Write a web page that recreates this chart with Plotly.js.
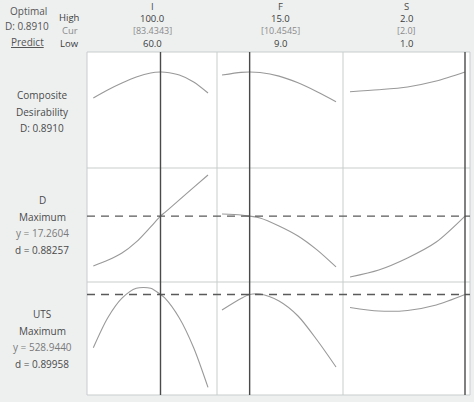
<!DOCTYPE html>
<html>
<head>
<meta charset="utf-8">
<script src="https://cdn.plot.ly/plotly-3.0.1.min.js"></script>
<style>
  html,body{margin:0;padding:0;background:#eef0f0;}
  #chart{width:474px;height:402px;}
</style>
</head>
<body>
<div id="chart"></div>
<script>
"use strict"

// factor settings
const iLevels = [60, 65, 70, 75, 80, 83.4343, 85, 90, 95, 100]
const fLevels = [9, 10, 10.4545, 11, 12, 13, 14, 15]
const sLevels = [1, 1.25, 1.5, 1.75, 2]
const factorNames = ["I", "F", "S"]
const factorHigh = ["100.0", "15.0", "2.0"]
const factorCur = ["[83.4343]", "[10.4545]", "[2.0]"]
const factorLow = ["60.0", "9.0", "1.0"]
const currentSetting = [83.4343, 10.4545, 2.0]

// composite desirability along each factor
const compI = [0.745, 0.790, 0.829, 0.863, 0.886, 0.891, 0.890, 0.874, 0.835, 0.773]
const compF = [0.874, 0.889, 0.891, 0.888, 0.868, 0.830, 0.780, 0.724]
const compS = [0.780, 0.791, 0.807, 0.840, 0.891]

// D response
const dI = [13.28, 13.73, 14.31, 15.20, 16.40, 17.2604, 17.56, 18.56, 19.56, 20.54]
const dF = [17.43, 17.35, 17.2604, 17.11, 16.47, 15.67, 14.56, 13.20]
const dS = [12.40, 12.96, 13.92, 15.19, 17.2604]

// UTS response
const utsI = [450.0, 494.1, 523.5, 538.2, 538.2, 528.944, 523.5, 494.1, 450.0, 391.2]
const utsF = [506.0, 523.0, 528.944, 529.7, 519.3, 497.1, 461.5, 421.5]
const utsS = [509.7, 504.5, 505.3, 513.4, 528.944]

const targets = {D: 17.2604, UTS: 528.944}

const rowLabels = [
  ["Composite", "Desirability", "D: 0.8910"],
  ["D", "Maximum", "y = 17.2604", "d = 0.88257"],
  ["UTS", "Maximum", "y = 528.9440", "d = 0.89958"],
]

// page geometry (px)
const W = 474, H = 402
const L = 87, R = 470, T = 52, B = 395
const colEdges = [87, 217, 343, 470]
const rowEdges = [52, 168, 282, 395]

const px = v => (v - L) / (R - L)
const py = v => (B - v) / (B - T)

const curveLine = {color: "#999999", width: 1.1}
const series = [
  [compI, compF, compS],
  [dI, dF, dS],
  [utsI, utsF, utsS],
]
const levels = [iLevels, fLevels, sLevels]

const data = []
series.forEach((row, r) => {
  row.forEach((ys, c) => {
    data.push({
      x: levels[c],
      y: ys,
      xaxis: c === 0 ? "x" : "x" + (c + 1),
      yaxis: r === 0 ? "y" : "y" + (r + 1),
      mode: "lines",
      line: {...curveLine, shape: "spline", smoothing: 0.8},
      hoverinfo: "skip",
      showlegend: false,
    })
  })
})

const hidden = {
  showgrid: false, zeroline: false, showline: false,
  showticklabels: false, ticks: "", fixedrange: true,
}

const xRanges = [[57.80, 103.14], [8.737, 15.368], [0.939, 2.0435]]
const yRanges = [[0.35, 1.004], [12.0, 21.1], [380, 547.5]]

const layout = {
  width: W, height: H,
  margin: {l: L, r: W - R, t: T, b: H - B, pad: 0},
  paper_bgcolor: "#eef0f0",
  plot_bgcolor: "#ffffff",
  font: {family: "Open Sans, Noto Sans, sans-serif", size: 10, color: "#4a4a4a"},
  showlegend: false,
  shapes: [],
  annotations: [],
}

xRanges.forEach((rg, c) => {
  layout[c === 0 ? "xaxis" : "xaxis" + (c + 1)] = {
    ...hidden, range: rg, anchor: "y",
    domain: [px(colEdges[c]), px(colEdges[c + 1])],
  }
})
yRanges.forEach((rg, r) => {
  layout[r === 0 ? "yaxis" : "yaxis" + (r + 1)] = {
    ...hidden, range: rg, anchor: "x",
    domain: [py(rowEdges[r + 1]), py(rowEdges[r])],
  }
})

// panel dividers
const divider = {color: "#c9cdcd", width: 1}
colEdges.forEach(e => {
  layout.shapes.push({type: "line", xref: "paper", yref: "paper",
    x0: px(e), x1: px(e), y0: 0, y1: 1, line: divider, layer: "above"})
})
rowEdges.forEach(e => {
  layout.shapes.push({type: "line", xref: "paper", yref: "paper",
    x0: 0, x1: 1, y0: py(e), y1: py(e), line: divider, layer: "above"})
})

// target lines
const dashLine = {color: "#5a5a5a", width: 1.4, dash: "8px,6px"}
layout.shapes.push({type: "line", xref: "paper", yref: "y2", x0: 0, x1: 1,
  y0: targets.D, y1: targets.D, line: dashLine, layer: "above"})
layout.shapes.push({type: "line", xref: "paper", yref: "y3", x0: 0, x1: 1,
  y0: targets.UTS, y1: targets.UTS, line: dashLine, layer: "above"})

// current setting lines
currentSetting.forEach((v, c) => {
  layout.shapes.push({type: "line", xref: c === 0 ? "x" : "x" + (c + 1), yref: "paper",
    x0: v, x1: v, y0: 0, y1: 1, line: {color: "#4a4a4a", width: 1.4}, layer: "above"})
})

const note = (text, x, y, color, size) => ({
  text: text, xref: "paper", yref: "paper", x: px(x), y: py(y),
  xanchor: "center", yanchor: "middle", showarrow: false, borderpad: 0,
  font: {color: color || "#4a4a4a", size: size || 9.5},
})

// header block
layout.annotations.push(note("Optimal", 28, 11, "#555555", 10))
layout.annotations.push(note("D: 0.8910", 27, 26, "#555555", 10))
layout.annotations.push(note("<u>Predict</u>", 27, 42, "#555555", 10))
layout.annotations.push(note("High", 69, 18, "#3c3c3c"))
layout.annotations.push(note("Cur", 70, 30.5, "#8a8a8a"))
layout.annotations.push(note("Low", 69, 43, "#3c3c3c"))

const headerRows = [6.5, 18.5, 31, 43.5]
factorNames.forEach((name, c) => {
  const cx = (colEdges[c] + colEdges[c + 1]) / 2
  layout.annotations.push(note(name, cx, headerRows[0], "#4a4a4a"))
  layout.annotations.push(note(factorHigh[c], cx, headerRows[1], "#3c3c3c"))
  layout.annotations.push(note(factorCur[c], cx, headerRows[2], "#8a8a8a", 9))
  layout.annotations.push(note(factorLow[c], cx, headerRows[3], "#3c3c3c"))
})

// response labels
const rowStarts = [95, 200, 314]
rowLabels.forEach((lines, r) => {
  lines.forEach((t, k) => {
    const col = t.startsWith("y =") ? "#7a7a7a" : "#4a4a4a"
    layout.annotations.push(note(t, 42, rowStarts[r] + k * 16.7, col, 10))
  })
})

Plotly.newPlot("chart", data, layout, {displayModeBar: false, staticPlot: true})
</script>
</body>
</html>
